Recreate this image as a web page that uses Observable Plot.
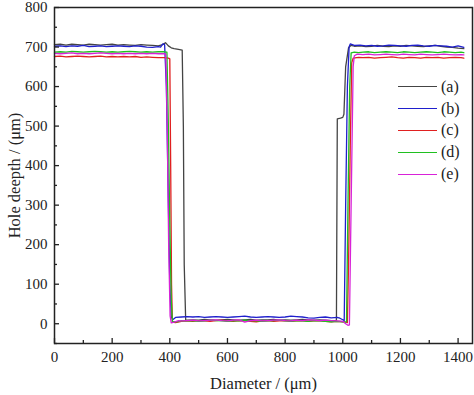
<!DOCTYPE html>
<html>
<head>
<meta charset="utf-8">
<script src="https://cdn.jsdelivr.net/npm/d3@7"></script>
<script src="https://cdn.jsdelivr.net/npm/@observablehq/plot@0.6"></script>
<style>
  html, body { margin: 0; padding: 0; background: #fff; }
  #wrap { position: relative; width: 474px; height: 395px; font-family: "Liberation Serif", "Times New Roman", serif; }
  #legend { position: absolute; left: 398px; top: 76px; }
  .item { display: flex; align-items: center; height: 21.8px; font-size: 16px; color: #222; }
  .swatch { width: 39px; height: 0; border-top: 1.5px solid; margin-right: 4px; }
</style>
</head>
<body>
<div id="wrap"></div>
<script>
// ---- data ----
const seriesNames = ["(a)", "(b)", "(c)", "(d)", "(e)"];
const seriesColors = ["#444444", "#1f1fcc", "#e02020", "#20c020", "#d822d8"];

const xA = [0,20,40,60,80,100,120,140,160,180,200,220,240,260,280,300,320,340,360,375,385,395,405,415,430,443,447,450,455,460,
  480,500,520,540,560,580,600,620,640,660,680,700,720,740,760,780,800,820,840,860,880,900,920,940,960,975,978,981,992,1000,1004,1010,1020,1028,1040,
  1060,1080,1100,1120,1140,1160,1180,1200,1220,1240,1260,1280,1300,1320,1340,1360,1380,1400,1420];
const yA = [706,707,705,707,706,705,707,706,705,706,707,705,706,705,704,706,705,704,703,706,711,703,698,696,694,692,500,150,10,9,
  10,9,11,10,9,10,11,10,9,10,11,9,10,10,11,9,10,9,10,11,10,9,10,9,8,8,9,518,520,522,530,650,698,704,702,
  703,701,702,704,702,701,703,702,704,703,702,701,703,704,702,700,699,697,696];

const xB = [0,20,40,60,80,100,120,140,160,180,200,220,240,260,280,300,320,340,360,368,376,382,388,394,400,405,410,420,440,
  460,480,500,520,540,560,580,600,620,640,660,680,700,720,740,760,780,800,820,840,860,880,900,920,940,960,980,990,1000,1005,1010,1016,1022,1026,1040,
  1060,1080,1100,1120,1140,1160,1180,1200,1220,1240,1260,1280,1300,1320,1340,1360,1380,1400,1420];
const yB = [702,703,701,703,702,704,701,702,703,701,702,703,702,701,703,702,700,699,701,700,708,706,600,350,100,18,10,16,17,
  18,17,18,16,17,18,17,16,17,18,19,17,16,17,18,17,16,17,19,18,17,15,14,16,17,15,16,14,10,8,300,600,700,708,704,
  705,703,704,702,703,705,704,703,702,704,705,703,702,704,703,702,700,703,699];

const xC = [0,20,40,60,80,100,120,140,160,180,200,220,240,260,280,300,320,340,360,380,395,400,403,406,409,420,440,
  460,480,500,520,540,560,580,600,620,640,660,680,700,720,740,760,780,800,820,840,860,880,900,920,940,960,980,1000,1010,1016,1020,1026,1031,1036,1055,
  1070,1090,1110,1130,1150,1170,1190,1210,1230,1250,1270,1290,1310,1330,1350,1370,1390,1410,1420];
const yC = [676,677,675,676,677,676,675,676,677,675,676,675,676,675,676,674,675,674,673,673,672,670,400,100,4,3,6,
  7,6,8,7,6,8,9,7,6,8,7,6,5,7,8,6,7,8,6,7,8,6,7,8,6,5,6,5,4,3,150,450,660,672,674,
  673,674,672,673,674,675,673,672,674,673,672,674,673,674,672,673,674,673,672];

const xD = [0,20,40,60,80,100,120,140,160,180,200,220,240,260,280,300,320,340,360,380,390,395,400,405,409,425,440,
  460,480,500,520,540,560,580,600,620,640,660,680,700,720,740,760,780,800,820,840,860,880,900,920,940,960,980,1000,1008,1013,1018,1024,1029,1040,1055,
  1070,1090,1110,1130,1150,1170,1190,1210,1230,1250,1270,1290,1310,1330,1350,1370,1390,1410,1420];
const yD = [687,688,687,689,688,687,688,689,688,687,688,687,688,689,688,687,688,687,688,688,687,500,250,60,6,5,8,
  7,8,6,7,9,8,7,6,8,7,9,8,7,6,7,8,9,7,6,8,7,6,8,7,6,5,6,5,4,5,300,600,685,687,686,
  687,688,686,687,688,687,686,688,687,686,687,688,687,686,688,687,686,687,686];

const xE = [0,20,40,60,80,100,120,140,160,180,200,220,240,260,280,300,320,340,360,380,386,391,396,401,405,415,430,440,
  460,480,500,520,540,560,580,600,620,640,660,680,700,720,740,760,780,800,820,840,860,880,900,920,940,960,980,1000,1010,1018,1023,1027,1032,1036,1040,1050,
  1070,1090,1110,1130,1150,1170,1190,1210,1230,1250,1270,1290,1310,1330,1350,1370,1390,1410,1420];
const yE = [684,683,684,685,683,684,683,684,685,684,683,684,683,684,683,684,683,684,683,683,682,500,200,20,2,4,8,7,
  8,9,7,8,9,10,8,7,9,10,4,8,9,7,8,9,10,8,7,9,8,10,9,8,9,8,7,6,0,-4,-3,200,450,650,678,682,
  681,682,680,681,682,681,680,682,681,680,682,681,680,681,682,681,680,681,680];

const xTicksMajor = [0,200,400,600,800,1000,1200,1400];
const xTicksMinor = [100,300,500,700,900,1100,1300];
const yTicksMajor = [0,100,200,300,400,500,600,700,800];
const yTicksMinor = [-50,50,150,250,350,450,550,650,750];

const xTitle = "Diameter / (μm)";
const yTitle = "Hole deepth / (μm)";

// ---- build table ----
const xsAll = [xA, xB, xC, xD, xE];
const ysAll = [yA, yB, yC, yD, yE];
const rows = [];
seriesNames.forEach((name, i) => {
  xsAll[i].forEach((x, j) => rows.push({series: name, x, y: ysAll[i][j]}));
});

const W = 474, H = 395;
const mL = 54, mR = 2, mT = 7, mB = 52;
const plotW = W - mL - mR, plotH = H - mT - mB;

const chart = Plot.plot({
  width: W,
  height: H,
  marginLeft: mL,
  marginRight: mR,
  marginTop: mT,
  marginBottom: mB,
  style: {fontFamily: "'Liberation Serif', 'Times New Roman', serif", fontSize: "15px", color: "#222", background: "white", overflow: "visible"},
  x: {domain: [0, 1450]},
  y: {domain: [-50, 800]},
  color: {domain: seriesNames, range: seriesColors},
  marks: [
    Plot.line(rows, {x: "x", y: "y", z: "series", stroke: "series", strokeWidth: 1.3}),
    Plot.tickX(xTicksMajor, {x: d => d, insetTop: plotH - 5, stroke: "#222", strokeWidth: 1.3}),
    Plot.tickX(xTicksMinor, {x: d => d, insetTop: plotH - 3, stroke: "#222", strokeWidth: 1.3}),
    Plot.tickY(yTicksMajor, {y: d => d, insetRight: plotW - 5, stroke: "#222", strokeWidth: 1.3}),
    Plot.tickY(yTicksMinor, {y: d => d, insetRight: plotW - 3, stroke: "#222", strokeWidth: 1.3}),
    Plot.axisX({ticks: xTicksMajor, tickFormat: d => String(d), tickSize: 0, tickPadding: 8, fontSize: 15, label: null}),
    Plot.axisY({ticks: yTicksMajor, tickFormat: d => String(d), tickSize: 0, tickPadding: 7, fontSize: 15, label: null}),
    Plot.axisX({ticks: [], label: xTitle, labelAnchor: "center", labelOffset: 45, labelArrow: "none", fontSize: 16.5}),
    Plot.axisY({ticks: [], label: yTitle, labelAnchor: "center", labelOffset: 46, labelArrow: "none", fontSize: 16.5}),
    Plot.frame({stroke: "#222", strokeWidth: 1.5})
  ]
});

const wrap = document.getElementById("wrap");
wrap.appendChild(chart);

const legend = document.createElement("div");
legend.id = "legend";
seriesNames.forEach((name, i) => {
  const item = document.createElement("div");
  item.className = "item";
  const sw = document.createElement("div");
  sw.className = "swatch";
  sw.style.borderTopColor = seriesColors[i];
  const t = document.createElement("span");
  t.textContent = name;
  item.appendChild(sw);
  item.appendChild(t);
  legend.appendChild(item);
});
wrap.appendChild(legend);
</script>
</body>
</html>
